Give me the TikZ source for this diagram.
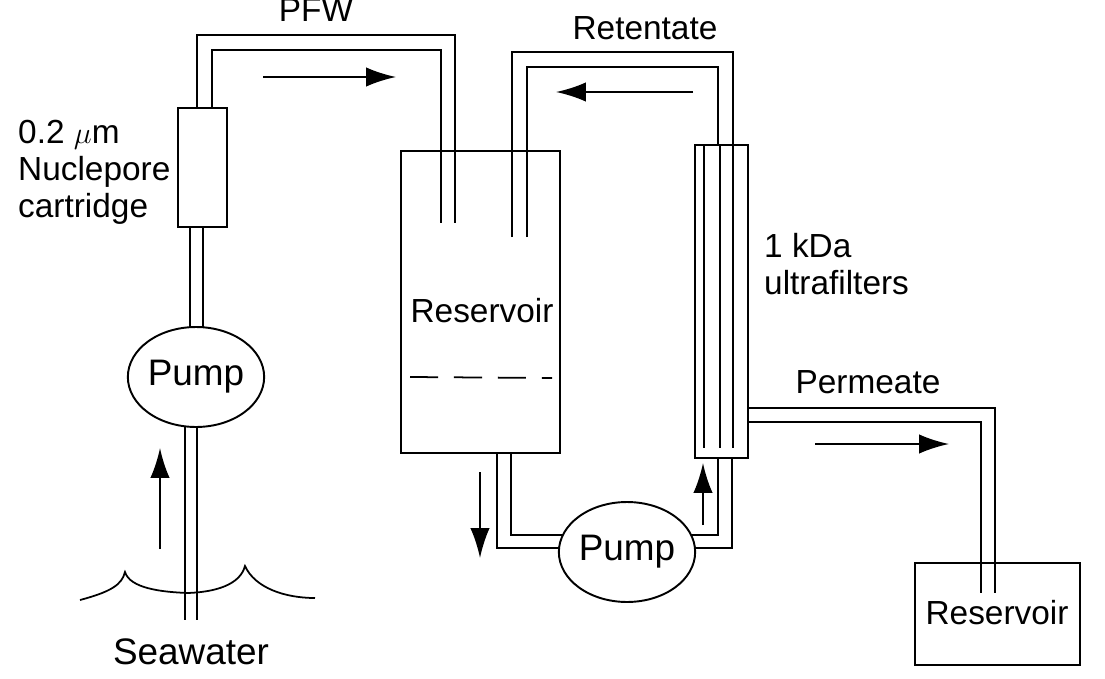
\documentclass[tikz,border=0pt]{standalone}
\usepackage{fontspec}
\setmainfont{Liberation Sans}
\usetikzlibrary{shapes.geometric,calc,arrows.meta}

\tikzset{
  pipe/.style={line width=0.9pt},
  box/.style={draw, line width=1.1pt, inner sep=0pt},
  pump/.style={draw, ellipse, fill=white, inner sep=0pt, line width=1.1pt, minimum width=2.6cm, minimum height=2cm, font=\fontsize{21}{24}\selectfont},
  lbl/.style={font=\fontsize{19}{21}\selectfont, align=left},
  flow/.style={-{Latex[length=17pt,width=11pt]}, line width=1.1pt}
}

\begin{document}
\begin{tikzpicture}[x=0.02cm, y=-0.02cm]
  \useasboundingbox (0,0) rectangle (1105,679);

  % boxes
  \node[box, minimum width=0.98cm, minimum height=2.38cm] (cart) at (202.5,167.5) {};
  \node[box, minimum width=3.18cm, minimum height=6.04cm] (res) at (480.5,302) {};
  \node[box, minimum width=1.06cm, minimum height=6.26cm] (uf) at (721.5,301.5) {};
  \node[box, minimum width=3.3cm, minimum height=2.04cm] (res2) at (997.5,614) {};

  % labels
  \node[lbl] at (316,10) {PFW};
  \node[lbl] at (645,28) {Retentate};
  \node[lbl] at (868,382) {Permeate};
  \node[lbl, anchor=west] at (12,172) {0.2 $\mu$m\\Nuclepore\\cartridge};
  \node[lbl, anchor=west] at (758,264) {1 kDa\\ultrafilters};
  \node[lbl] at (482,311) {Reservoir};
  \node[lbl] at (997,613) {Reservoir};
  \node[lbl, font=\fontsize{21}{24}\selectfont] at (191,652) {Seawater};

  % PFW line
  \draw[pipe] (197,108) |- (455,35) -- (455,223);
  \draw[pipe] (212,108) |- (441,50) -- (441,223);
  % retentate line
  \draw[pipe] (512,237) |- (733,52) -- (733,145);
  \draw[pipe] (527,237) |- (718,67) -- (718,145);
  % filter fibres
  \foreach \x in {704,720,733}
    \draw[pipe] (\x,145) -- (\x,448);
  % reservoir to pump
  \draw[pipe] (497,453) |- (600,548);
  \draw[pipe] (511,453) |- (600,535);
  \draw[pipe] (650,535) -| (718,458);
  \draw[pipe] (650,548) -| (732,458);
  % permeate line
  \draw[pipe] (748,408) -| (995,593);
  \draw[pipe] (748,422) -| (981,593);
  % seawater intake
  \draw[pipe] (190,227) -- (190,350);
  \draw[pipe] (203,227) -- (203,350);
  \draw[pipe] (185,400) -- (185,620);
  \draw[pipe] (197,400) -- (197,620);
  % liquid level
  \draw[line width=1pt, dash pattern=on 16pt off 9pt] (410,377) -- (552,378);
  % waves
  \draw[line width=1pt] (80,600) .. controls (110,592) and (122,585) .. (125,572)
    .. controls (130,588) and (160,592) .. (188,593)
    .. controls (215,592) and (240,585) .. (245,566)
    .. controls (255,588) and (285,598) .. (315,598);

  % pumps
  \node[pump] (pumpA) at (196,377) {Pump};
  \node[pump] (pumpB) at (627,552) {Pump};

  % flow arrows
  \draw[flow] (263,77) -- (396,77);
  \draw[flow] (693,92) -- (556,92);
  \draw[flow] (480,472) -- (480,558);
  \draw[flow] (703,525) -- (703,463);
  \draw[flow] (815,444) -- (949,444);
  \draw[flow] (160,549) -- (160,448);
\end{tikzpicture}
\end{document}
